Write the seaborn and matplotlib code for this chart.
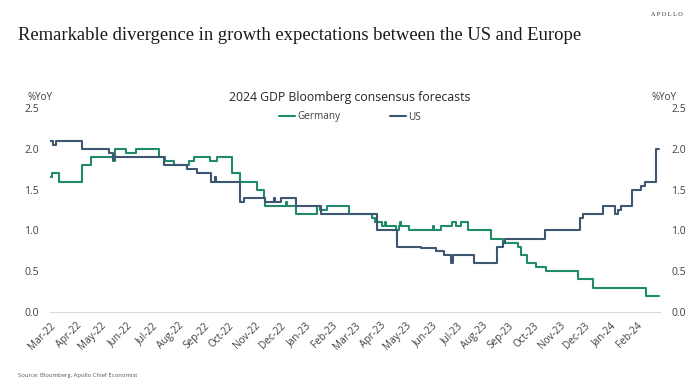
import pandas as pd
import matplotlib
matplotlib.use("Agg")
import matplotlib.pyplot as plt
import matplotlib.dates as mdates
import seaborn as sns

# 2024 GDP consensus forecasts, step changes (date, %YoY)
us_dates = ["2022-03-01", "2022-03-05", "2022-03-08", "2022-04-08", "2022-05-11",
            "2022-05-15", "2022-05-17", "2022-07-15", "2022-08-12", "2022-08-24",
            "2022-09-10", "2022-09-15", "2022-09-16", "2022-10-14", "2022-10-19",
            "2022-11-14", "2022-11-24", "2022-11-25", "2022-12-03", "2022-12-20",
            "2023-01-19", "2023-03-27", "2023-04-20", "2023-05-19", "2023-06-06",
            "2023-06-16", "2023-06-24", "2023-06-26", "2023-07-22", "2023-08-18",
            "2023-08-25", "2023-08-28", "2023-10-15", "2023-11-25", "2023-11-29",
            "2023-12-23", "2024-01-07", "2024-01-10", "2024-01-14", "2024-01-27",
            "2024-02-07", "2024-02-11", "2024-02-24", "2024-02-28"]
us_values = [2.1, 2.05, 2.1, 2.0, 1.95,
             1.86, 1.9, 1.8, 1.75, 1.7,
             1.6, 1.65, 1.6, 1.35, 1.4,
             1.35, 1.4, 1.35, 1.4, 1.3,
             1.2, 1.0, 0.8, 0.79, 0.75,
             0.7, 0.6, 0.7, 0.6, 0.8,
             0.85, 0.9, 1.0, 1.15, 1.2,
             1.3, 1.2, 1.25, 1.3, 1.5,
             1.55, 1.6, 2.0, 2.0]

germany_dates = ["2022-03-01", "2022-03-03", "2022-03-12", "2022-04-08", "2022-04-19",
                 "2022-05-15", "2022-05-18", "2022-05-31", "2022-06-12", "2022-07-10",
                 "2022-07-17", "2022-07-27", "2022-08-14", "2022-08-20", "2022-09-08",
                 "2022-09-17", "2022-10-05", "2022-10-14", "2022-11-04", "2022-11-12",
                 "2022-11-14", "2022-12-08", "2022-12-10", "2022-12-21", "2023-01-15",
                 "2023-01-18", "2023-01-27", "2023-02-22", "2023-03-21", "2023-03-25",
                 "2023-04-02", "2023-04-06", "2023-04-07", "2023-04-19", "2023-04-23",
                 "2023-04-24", "2023-04-25", "2023-05-05", "2023-06-02", "2023-06-04",
                 "2023-06-12", "2023-06-25", "2023-06-30", "2023-07-06", "2023-07-14",
                 "2023-08-11", "2023-08-25", "2023-09-12", "2023-09-16", "2023-09-23",
                 "2023-10-04", "2023-10-16", "2023-11-23", "2023-12-11", "2024-02-12",
                 "2024-02-28"]
germany_values = [1.65, 1.7, 1.6, 1.8, 1.9,
                  1.85, 2.0, 1.95, 2.0, 1.9,
                  1.85, 1.8, 1.85, 1.9, 1.85,
                  1.9, 1.7, 1.6, 1.5, 1.4,
                  1.3, 1.35, 1.3, 1.2, 1.3,
                  1.25, 1.3, 1.2, 1.15, 1.1,
                  1.05, 1.1, 1.05, 1.0, 1.05,
                  1.1, 1.05, 1.0, 1.05, 1.0,
                  1.05, 1.1, 1.05, 1.1, 1.0,
                  0.9, 0.85, 0.8, 0.7, 0.6,
                  0.55, 0.5, 0.4, 0.3, 0.2,
                  0.2]

y_ticks = [0.0, 0.5, 1.0, 1.5, 2.0, 2.5]

GERMANY_COLOR = "#1f8a6c"
US_COLOR = "#3f5672"
TEXT_COLOR = "#404040"

sns.set_style("white")
plt.rcParams["font.family"] = ["Open Sans", "DejaVu Sans"]

fig = plt.figure(figsize=(7, 3.89), dpi=100)
ax = fig.add_axes([0.0714, 0.198, 0.872, 0.524])

ger = pd.DataFrame({"date": pd.to_datetime(germany_dates), "value": germany_values})
us = pd.DataFrame({"date": pd.to_datetime(us_dates), "value": us_values})

sns.lineplot(data=ger, x="date", y="value", ax=ax, color=GERMANY_COLOR,
             drawstyle="steps-post", linewidth=1.5, label="Germany")
sns.lineplot(data=us, x="date", y="value", ax=ax, color=US_COLOR,
             drawstyle="steps-post", linewidth=1.5, label="US")

ax.set_xlim(pd.Timestamp("2022-03-01"), pd.Timestamp("2024-02-29 18:00"))
ax.set_ylim(0, 2.5)
ax.set_yticks(y_ticks)
ax.set_yticklabels([f"{v:.1f}" for v in y_ticks])
ax.set_xlabel("")
ax.set_ylabel("")

ax.xaxis.set_major_locator(mdates.MonthLocator())
ax.xaxis.set_major_formatter(mdates.DateFormatter("%b-%y"))
plt.setp(ax.get_xticklabels(), rotation=45, ha="right", rotation_mode="anchor")
ax.tick_params(axis="x", length=3, width=0.6, color="#d9d9d9", labelsize=7.2,
               labelcolor=TEXT_COLOR, pad=3)
ax.tick_params(axis="y", length=0, labelsize=7.5, labelcolor=TEXT_COLOR, pad=8)

for side in ["top", "right", "left"]:
    ax.spines[side].set_visible(False)
ax.spines["bottom"].set_color("#d9d9d9")
ax.spines["bottom"].set_linewidth(0.8)

# right-hand axis mirrors the left
ax2 = ax.twinx()
ax2.set_ylim(0, 2.5)
ax2.set_yticks(y_ticks)
ax2.set_yticklabels([f"{v:.1f}" for v in y_ticks])
ax2.tick_params(axis="y", length=0, labelsize=7.5, labelcolor=TEXT_COLOR, pad=8)
for side in ["top", "right", "left", "bottom"]:
    ax2.spines[side].set_visible(False)

ax.legend(loc="center", ncol=2, frameon=False, fontsize=7.2, handlelength=1.6,
          handletextpad=0.2, columnspacing=5.0, labelcolor=TEXT_COLOR)
ax.legend_.set_bbox_to_anchor((0.5, 1 - 117 / 389), transform=fig.transFigure)

fig.text(0.5, 1 - 97 / 389, "2024 GDP Bloomberg consensus forecasts", ha="center",
         va="center", fontsize=8.8, color="#262626")
fig.text(27 / 700, 1 - 97 / 389, "%YoY", ha="left", va="center", fontsize=7,
         color=TEXT_COLOR)
fig.text(652 / 700, 1 - 97 / 389, "%YoY", ha="left", va="center", fontsize=7,
         color=TEXT_COLOR)

fig.text(18 / 700, 1 - 35 / 389,
         "Remarkable divergence in growth expectations between the US and Europe",
         ha="left", va="center", fontsize=13.4, color="#1a1a1a",
         family=["Liberation Serif", "DejaVu Serif"])
fig.text(683 / 700, 1 - 15 / 389, "A P O L L O", ha="right", va="center",
         fontsize=4.5, color="#333333", family=["Liberation Serif", "DejaVu Serif"])
fig.text(18 / 700, 1 - 375 / 389, "Source: Bloomberg, Apollo Chief Economist",
         ha="left", va="center", fontsize=4.2, color="#555555")

fig.savefig("out.png", dpi=100)
plt.close(fig)
